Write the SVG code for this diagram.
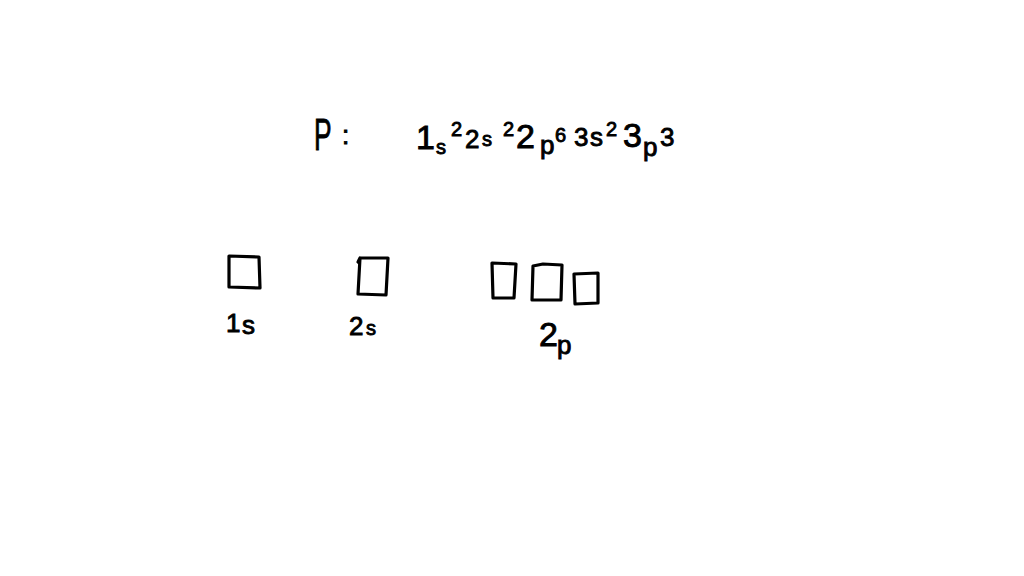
<svg xmlns="http://www.w3.org/2000/svg" width="1024" height="576" viewBox="0 0 1024 576">
<style>
.b{fill:none;stroke:#000;stroke-width:3.2;stroke-linejoin:round;stroke-linecap:round}
.t{font-family:"Liberation Sans",Arial,sans-serif;fill:#000;stroke:#000;stroke-width:0.9}
.big{font-size:34px}
.mid{font-size:26px}
.sm{font-size:20px}
</style>
<rect width="1024" height="576" fill="#fff"/>
<g id="formula">
<text class="t" style="font-size:44px" x="314" y="150" transform="translate(314 150) scale(0.6 1) translate(-314 -150)">P</text>
<text class="t mid" x="342" y="144">:</text>
<text class="t big" x="416" y="149">1</text>
<text class="t sm" x="436" y="154">s</text>
<text class="t sm" x="451" y="136">2</text>
<text class="t mid" x="465" y="148">2</text>
<text class="t sm" x="482" y="146">s</text>
<text class="t sm" x="503" y="136">2</text>
<text class="t big" x="516" y="148">2</text>
<text class="t mid" x="540" y="154">p</text>
<text class="t sm" x="555" y="142">6</text>
<text class="t mid" x="574" y="146">3</text>
<text class="t mid" x="590" y="146">s</text>
<text class="t sm" x="606" y="136">2</text>
<text class="t big" x="623" y="147">3</text>
<text class="t mid" x="643" y="156">p</text>
<text class="t mid" x="660" y="146">3</text>
</g>
<g id="orbital-1s">
<path class="b" d="M229,256 L259,257 L260,288 L229,287 Z"/>
<text class="t mid" x="226" y="332">1</text>
<text class="t mid" x="242" y="334">s</text>
</g>
<g id="orbital-2s">
<path class="b" d="M360,258 L388,258 L386,295 L358,294 Z M360,258 L358,262"/>
<text class="t mid" x="349" y="335">2</text>
<text class="t sm" x="366" y="335">s</text>
</g>
<g id="orbital-2p">
<path class="b" d="M492,263 L516,264 L514,298 L493,298 Z"/>
<path class="b" d="M533,266 L543,264 L562,265 L561,300 L532,300 Z"/>
<path class="b" d="M574,274 L598,273 L598,303 L575,304 Z"/>
<text class="t big" x="539" y="346">2</text>
<text class="t mid" x="557" y="354">p</text>
</g>
</svg>
